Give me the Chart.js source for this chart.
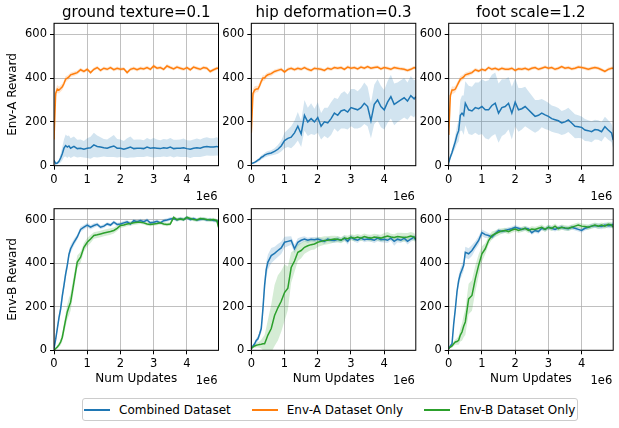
<!DOCTYPE html>
<html>
<head>
<meta charset="utf-8">
<title>Reward curves</title>
<script src="https://cdn.jsdelivr.net/npm/chart.js@4.4.0/dist/chart.umd.min.js"></script>
<style>
    body { margin: 0; background: #fff; }
    #figure { position: relative; width: 619px; height: 428px; background: #fff; font-family: "DejaVu Sans", sans-serif; overflow: hidden; }
    #figure canvas { position: absolute; left: 0; top: 0; }
    .legend {
        position: absolute; z-index: 2; left: 82px; top: 398px; width: 496px; height: 23px;
        box-sizing: border-box; border: 1px solid #cccccc; border-radius: 3px; background: #fff;
        display: flex; align-items: center; padding-left: 1px;
        font-size: 12px; color: #000; white-space: nowrap;
    }
    .legend-item { display: flex; align-items: center; margin-right: 21px; }
    .legend-line { display: block; width: 26px; height: 2px; margin-right: 9px; }
</style>
</head>
<body>
<div id="figure">
    <div class="legend">
        <div class="legend-item"><div class="legend-line" style="background:#1f77b4"></div>Combined Dataset</div>
        <div class="legend-item"><div class="legend-line" style="background:#ff7f0e"></div>Env-A Dataset Only</div>
        <div class="legend-item"><div class="legend-line" style="background:#2ca02c"></div>Env-B Dataset Only</div>
    </div>
</div>
<script>
// x values are in units of 1e6 updates
const updates = [0, 0.05, 0.1, 0.15, 0.2, 0.25, 0.3, 0.35, 0.4, 0.45, 0.5,
    0.6, 0.7, 0.8, 0.9, 1.0, 1.1, 1.2, 1.3, 1.4, 1.5,
    1.6, 1.7, 1.8, 1.9, 2.0, 2.1, 2.2, 2.3, 2.4, 2.5,
    2.6, 2.7, 2.8, 2.9, 3.0, 3.1, 3.2, 3.3, 3.4, 3.5,
    3.6, 3.7, 3.8, 3.9, 4.0, 4.1, 4.2, 4.3, 4.4, 4.5,
    4.6, 4.7, 4.8, 4.9, 4.95];

const xTicks = [0, 1, 2, 3, 4];
const yTicks = [0, 200, 400, 600];
const offsetText = "1e6";
const panelTitles = ["ground texture=0.1", "hip deformation=0.3", "foot scale=1.2"];
const rowLabels = ["Env-A Reward", "Env-B Reward"];

// ---- Env-A reward (top row) ----
const groundCombinedA = [25, 10, 12, 20, 35, 55, 80, 92, 85, 90, 80,
    88, 78, 80, 75, 80, 82, 95, 88, 85, 82,
    80, 85, 90, 80, 80, 75, 80, 85, 78, 80,
    80, 78, 85, 80, 82, 80, 78, 82, 80, 85,
    78, 80, 80, 82, 78, 75, 80, 82, 80, 85,
    88, 85, 85, 88, 85];
const groundCombinedAStd = [5, 5, 6, 10, 20, 30, 40, 50, 50, 48, 45,
    45, 40, 40, 38, 45, 50, 55, 50, 45, 40,
    40, 45, 50, 42, 40, 38, 45, 48, 40, 40,
    40, 38, 42, 40, 45, 40, 38, 40, 40, 42,
    40, 38, 40, 42, 38, 40, 40, 42, 40, 42,
    42, 40, 40, 42, 40];
const groundOnlyA = [120, 330, 350, 345, 352, 360, 375, 395, 400, 405, 415,
    420, 425, 438, 430, 440, 425, 440, 448, 435, 445,
    440, 448, 438, 445, 440, 442, 425, 440, 445, 438,
    445, 442, 448, 440, 455, 445, 448, 440, 455, 448,
    442, 450, 445, 440, 448, 438, 450, 445, 440, 448,
    445, 430, 438, 445, 445];
const groundOnlyAStd = [12, 20, 18, 15, 15, 15, 14, 14, 12, 12, 10,
    10, 9, 9, 8, 8, 8, 8, 8, 8, 8,
    8, 8, 8, 8, 8, 8, 8, 8, 8, 8,
    8, 8, 8, 8, 9, 8, 8, 8, 9, 8,
    8, 8, 8, 8, 8, 8, 8, 8, 8, 8,
    8, 8, 8, 8, 8];

const hipCombinedA = [10, 12, 15, 20, 25, 30, 38, 42, 48, 52, 55,
    58, 65, 75, 90, 115, 125, 130, 150, 180, 145,
    230, 200, 215, 200, 220, 180, 200, 195, 215, 240,
    230, 250, 255, 245, 265, 260, 255, 265, 285, 270,
    205, 280, 300, 270, 255, 290, 315, 280, 290, 300,
    310, 295, 320, 305, 315];
const hipCombinedAStd = [3, 4, 5, 6, 8, 8, 10, 10, 10, 12, 12,
    12, 15, 20, 25, 35, 40, 50, 55, 65, 60,
    70, 65, 70, 60, 70, 60, 65, 70, 75, 70,
    75, 80, 85, 80, 85, 90, 85, 90, 95, 90,
    80, 90, 95, 95, 90, 95, 100, 95, 90, 90,
    90, 85, 90, 85, 80];
const hipOnlyA = [150, 330, 345, 350, 350, 365, 385, 400, 400, 410, 415,
    420, 430, 435, 440, 428, 440, 445, 438, 445, 440,
    448, 440, 435, 445, 442, 440, 435, 445, 440, 448,
    445, 448, 440, 450, 445, 448, 442, 450, 445, 452,
    445, 448, 450, 442, 448, 445, 440, 448, 445, 442,
    440, 435, 440, 448, 445];
const hipOnlyAStd = [12, 20, 18, 15, 15, 15, 14, 14, 12, 12, 10,
    10, 9, 9, 8, 8, 8, 8, 8, 8, 8,
    8, 8, 8, 8, 8, 8, 8, 8, 8, 8,
    8, 8, 8, 8, 8, 8, 8, 8, 8, 8,
    8, 8, 8, 8, 8, 8, 8, 8, 8, 8,
    8, 8, 8, 8, 8];

const footCombinedA = [15, 40, 60, 85, 110, 140, 160, 230, 240, 230, 285,
    255, 250, 265, 260, 270, 255, 255, 275, 285, 240,
    265, 270, 285, 240, 290, 255, 260, 270, 255, 240,
    225, 230, 240, 232, 225, 215, 210, 205, 195, 200,
    209, 195, 180, 178, 175, 163, 160, 155, 165, 163,
    155, 178, 163, 150, 117];
const footCombinedAStd = [5, 10, 15, 20, 30, 40, 50, 70, 80, 90, 100,
    110, 110, 115, 120, 125, 130, 135, 140, 140, 135,
    130, 125, 120, 120, 110, 100, 95, 90, 85, 80,
    75, 70, 65, 65, 62, 60, 60, 58, 55, 55,
    55, 55, 55, 52, 50, 50, 48, 48, 45, 45,
    45, 45, 45, 42, 40];
const footOnlyA = [140, 320, 345, 345, 350, 365, 380, 395, 400, 405, 415,
    420, 425, 438, 432, 440, 435, 448, 440, 445, 438,
    445, 440, 440, 445, 435, 442, 440, 445, 438, 445,
    448, 440, 445, 450, 445, 448, 440, 445, 452, 445,
    448, 442, 445, 450, 448, 445, 440, 445, 448, 445,
    438, 430, 440, 445, 445];
const footOnlyAStd = [12, 20, 18, 15, 15, 15, 14, 14, 12, 12, 10,
    10, 9, 9, 8, 8, 8, 8, 8, 8, 8,
    8, 8, 8, 8, 8, 8, 8, 8, 8, 8,
    8, 8, 8, 8, 8, 8, 8, 8, 8, 8,
    8, 8, 8, 8, 8, 8, 8, 8, 8, 8,
    8, 8, 8, 8, 8];

// ---- Env-B reward (bottom row) ----
const groundCombinedB = [8, 50, 100, 150, 190, 250, 298, 350, 390, 440, 466,
    496, 520, 555, 565, 575, 565, 573, 578, 565, 570,
    580, 575, 588, 578, 580, 585, 590, 580, 595, 590,
    596, 590, 598, 585, 588, 592, 585, 595, 598, 603,
    605, 598, 605, 600, 610, 600, 605, 598, 600, 603,
    598, 600, 596, 595, 590];
const groundCombinedBStd = [4, 10, 15, 20, 25, 25, 25, 25, 22, 20, 18,
    15, 12, 12, 10, 10, 10, 10, 9, 9, 9,
    8, 8, 8, 8, 8, 8, 8, 8, 8, 8,
    8, 8, 8, 8, 8, 8, 8, 8, 8, 8,
    8, 8, 8, 8, 8, 8, 8, 8, 8, 8,
    8, 8, 8, 8, 8];
const groundOnlyB = [0, 8, 15, 25, 38, 60, 100, 140, 176, 200, 221,
    313, 405, 427, 473, 496, 511, 527, 530, 534, 538,
    542, 545, 550, 560, 573, 575, 580, 582, 585, 588,
    588, 585, 580, 578, 580, 582, 585, 580, 578, 580,
    610, 600, 603, 600, 610, 605, 600, 598, 605, 603,
    600, 598, 600, 595, 565];
const groundOnlyBStd = [2, 5, 8, 10, 15, 20, 25, 30, 35, 40, 40,
    35, 30, 25, 20, 20, 18, 15, 15, 15, 15,
    15, 15, 14, 12, 12, 10, 10, 10, 10, 10,
    8, 8, 8, 8, 8, 8, 8, 8, 8, 8,
    8, 8, 8, 8, 8, 8, 8, 8, 8, 8,
    8, 8, 8, 8, 8];

const hipCombinedB = [8, 20, 30, 45, 53, 75, 100, 190, 298, 370, 405,
    435, 445, 458, 470, 496, 500, 504, 466, 496, 505,
    511, 505, 510, 508, 511, 505, 500, 510, 505, 504,
    510, 505, 515, 500, 519, 510, 505, 515, 508, 511,
    510, 505, 515, 508, 510, 505, 515, 500, 510, 505,
    515, 500, 510, 520, 505];
const hipCombinedBStd = [3, 5, 8, 10, 12, 15, 20, 30, 35, 35, 35,
    35, 30, 30, 28, 25, 22, 20, 20, 18, 15,
    12, 12, 10, 12, 10, 10, 12, 10, 10, 12,
    12, 10, 12, 14, 10, 12, 12, 10, 12, 12,
    12, 12, 14, 12, 15, 12, 12, 20, 14, 12,
    12, 14, 12, 12, 12];
const hipOnlyB = [8, 15, 20, 23, 25, 27, 28, 30, 30, 50, 70,
    100, 160, 195, 225, 265, 285, 380, 410, 450, 458,
    473, 480, 485, 488, 496, 500, 504, 505, 508, 511,
    510, 505, 515, 512, 519, 515, 520, 515, 522, 518,
    515, 520, 518, 515, 520, 525, 520, 518, 522, 520,
    518, 520, 525, 520, 510];
const hipOnlyBStd = [4, 6, 8, 10, 12, 15, 20, 30, 40, 55, 70,
    110, 140, 150, 140, 130, 100, 70, 50, 40, 35,
    30, 28, 25, 25, 22, 20, 20, 18, 18, 15,
    15, 14, 14, 14, 14, 14, 14, 14, 14, 14,
    15, 15, 15, 15, 18, 18, 15, 15, 18, 20,
    20, 18, 18, 18, 18];

const footCombinedB = [8, 20, 30, 120, 190, 270, 320, 350, 370, 390, 450,
    443, 458, 481, 504, 540, 531, 527, 520, 535, 550,
    545, 550, 555, 558, 565, 560, 555, 560, 557, 540,
    550, 545, 560, 555, 565, 560, 555, 562, 565, 560,
    558, 565, 560, 555, 550, 560, 565, 570, 573, 570,
    568, 575, 572, 573, 580];
const footCombinedBStd = [3, 5, 10, 15, 20, 25, 25, 25, 25, 25, 25,
    25, 25, 20, 20, 15, 15, 12, 12, 12, 10,
    10, 10, 10, 10, 10, 10, 10, 10, 10, 10,
    10, 10, 10, 10, 10, 10, 10, 10, 10, 10,
    10, 10, 10, 10, 10, 10, 10, 10, 10, 12,
    12, 12, 12, 12, 12];
const footOnlyB = [8, 15, 20, 30, 38, 40, 46, 70, 84, 110, 130,
    236, 252, 328, 390, 443, 466, 504, 527, 535, 542,
    548, 550, 545, 552, 557, 550, 555, 560, 550, 557,
    555, 560, 565, 555, 565, 560, 570, 558, 565, 562,
    560, 565, 570, 575, 570, 568, 565, 570, 575, 570,
    575, 570, 578, 575, 565];
const footOnlyBStd = [3, 5, 8, 10, 12, 15, 20, 30, 40, 50, 60,
    70, 70, 60, 50, 35, 25, 20, 18, 15, 15,
    12, 12, 12, 12, 12, 12, 12, 12, 12, 12,
    12, 12, 12, 12, 12, 12, 12, 12, 12, 12,
    12, 12, 12, 12, 12, 12, 12, 12, 12, 12,
    12, 12, 12, 12, 12];

const colors = ["#1f77b4", "#ff7f0e", "#2ca02c"];

// plot area of each column / row inside the 619x428 figure
const plotLeft = [54, 251.3, 448.7];
const plotWidth = 164.5;
const plotTop = [23.3, 208.7];
const plotBottom = [165.7, 350.3];

const fontFamily = "DejaVu Sans";
Chart.defaults.font.family = fontFamily;
Chart.defaults.color = "#000";

const titleSize = 15;
const titlePadTop = 4.5;

const framePlugin = {
    id: "frame",
    afterDraw(chart) {
        const ctx = chart.ctx;
        const area = chart.chartArea;
        ctx.save();
        ctx.strokeStyle = "#000";
        ctx.lineWidth = 1;
        ctx.strokeRect(area.left, area.top, area.right - area.left, area.bottom - area.top);
        ctx.font = "11.5px '" + fontFamily + "'";
        ctx.fillStyle = "#000";
        ctx.textAlign = "right";
        ctx.textBaseline = "alphabetic";
        ctx.fillText(offsetText, area.right - 1, area.bottom + 34);
        ctx.restore();
    }
};

function lineDataset(mean, color) {
    return {
        data: updates.map((x, i) => ({ x: x, y: mean[i] })),
        borderColor: color,
        borderWidth: 1.5,
        pointRadius: 0,
        fill: false
    };
}

function bandDatasets(mean, std, color) {
    return [
        {
            data: updates.map((x, i) => ({ x: x, y: mean[i] + std[i] })),
            borderColor: "rgba(0,0,0,0)",
            borderWidth: 0,
            pointRadius: 0,
            backgroundColor: color + "33",
            fill: "+1"
        },
        {
            data: updates.map((x, i) => ({ x: x, y: mean[i] - std[i] })),
            borderColor: "rgba(0,0,0,0)",
            borderWidth: 0,
            pointRadius: 0,
            fill: false
        }
    ];
}

function createPanel(row, col, combined, combinedStd, single, singleStd, singleColor) {

    const canvas = document.createElement("canvas");
    canvas.width = 619;
    canvas.height = 428;
    document.getElementById("figure").appendChild(canvas);

    const left = plotLeft[col];
    const right = left + plotWidth;
    const top = plotTop[row];
    const bottom = plotBottom[row];
    const yWidth = col === 0 ? 52 : 30;
    const xHeight = row === 1 ? 40 : 20;
    const titleHeight = row === 0 ? top - titlePadTop : 0;

    // first dataset is drawn on top
    const datasets = [
        lineDataset(single, singleColor),
        lineDataset(combined, colors[0]),
        ...bandDatasets(single, singleStd, singleColor),
        ...bandDatasets(combined, combinedStd, colors[0])
    ];

    new Chart(canvas.getContext("2d"), {
        type: "line",
        data: { datasets: datasets },
        options: {
            responsive: false,
            animation: false,
            events: [],
            layout: {
                padding: {
                    left: left - yWidth,
                    right: 619 - right,
                    top: top - titleHeight,
                    bottom: 428 - bottom - xHeight
                }
            },
            plugins: {
                legend: { display: false },
                tooltip: { enabled: false },
                title: {
                    display: row === 0,
                    fullSize: false,
                    text: panelTitles[col],
                    color: "#000",
                    font: { size: titleSize, weight: "normal", family: fontFamily, lineHeight: 1.2 },
                    padding: { top: 0, bottom: titleHeight - titleSize * 1.2 }
                }
            },
            scales: {
                x: {
                    type: "linear",
                    min: 0,
                    max: 4.95,
                    afterBuildTicks: scale => { scale.ticks = xTicks.map(v => ({ value: v })); },
                    afterFit: scale => { scale.height = xHeight; },
                    ticks: { font: { size: 11.5 }, padding: 3, maxRotation: 0, color: "#000" },
                    grid: { color: "#b0b0b0", lineWidth: 0.8, tickColor: "#000", tickLength: 4, tickWidth: 1 },
                    border: { display: false },
                    title: {
                        display: row === 1,
                        text: "Num Updates",
                        color: "#000",
                        font: { size: 12 },
                        padding: { top: 4, bottom: 4 }
                    }
                },
                y: {
                    min: 0,
                    max: 650,
                    afterBuildTicks: scale => { scale.ticks = yTicks.map(v => ({ value: v })); },
                    afterFit: scale => { scale.width = yWidth; },
                    ticks: { font: { size: 11.5 }, padding: 3, color: "#000" },
                    grid: { color: "#b0b0b0", lineWidth: 0.8, tickColor: "#000", tickLength: 4, tickWidth: 1 },
                    border: { display: false },
                    title: {
                        display: col === 0,
                        text: rowLabels[row],
                        color: "#000",
                        font: { size: 12 },
                        padding: { top: 4, bottom: 4 }
                    }
                }
            }
        },
        plugins: [framePlugin]
    });
}

createPanel(0, 0, groundCombinedA, groundCombinedAStd, groundOnlyA, groundOnlyAStd, colors[1]);
createPanel(0, 1, hipCombinedA, hipCombinedAStd, hipOnlyA, hipOnlyAStd, colors[1]);
createPanel(0, 2, footCombinedA, footCombinedAStd, footOnlyA, footOnlyAStd, colors[1]);
createPanel(1, 0, groundCombinedB, groundCombinedBStd, groundOnlyB, groundOnlyBStd, colors[2]);
createPanel(1, 1, hipCombinedB, hipCombinedBStd, hipOnlyB, hipOnlyBStd, colors[2]);
createPanel(1, 2, footCombinedB, footCombinedBStd, footOnlyB, footOnlyBStd, colors[2]);
</script>
</body>
</html>
